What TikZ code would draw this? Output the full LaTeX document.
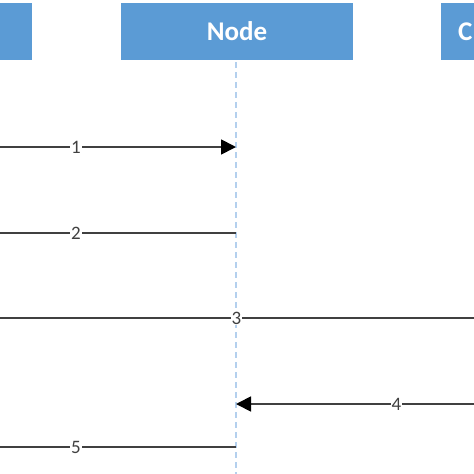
\documentclass[tikz,border=0pt]{standalone}
\usepackage{fontspec}
\setmainfont{Carlito}
\usetikzlibrary{arrows.meta}
\definecolor{boxblue}{HTML}{5B9BD5}
\definecolor{lifeblue}{HTML}{B4D0EE}
\definecolor{msg}{HTML}{404040}
\begin{document}
\begin{tikzpicture}[x=1pt,y=-1pt,
  actor/.style={fill=boxblue, draw=none, minimum width=232pt, minimum height=57pt, inner sep=0pt, text=white, font=\fontsize{27}{30}\selectfont\bfseries},
  life/.style={draw=lifeblue, line width=1.6pt, dash pattern=on 6pt off 4pt},
  msgline/.style={draw=msg, line width=1.8pt},
  tip/.style={-{Triangle[length=15pt,width=15pt,fill=black,color=black]}},
  lbl/.style={fill=white, inner sep=1pt, font=\fontsize{19}{20}\selectfont, text=black!75}]
\useasboundingbox (0,0) rectangle (474,474);
\clip (0,0) rectangle (474,474);
% participants
\node[actor] (A) at (-84,31.5) {};
\node[actor] (N) at (237,31.5) {Node};
\node[actor] (C) at (557,31.5) {};
\node[anchor=west, inner sep=0pt, text=white, font=\fontsize{27}{30}\selectfont\bfseries] (Ct) at (458,31.5) {C};
% lifeline
\coordinate (Ntop) at (236,62);
\coordinate (Nbot) at (236,474);
\draw[life] (Ntop) -- (Nbot);
% message end points
\coordinate (a1) at (-84,147); \coordinate (n1) at (236,147);
\coordinate (a2) at (-84,233); \coordinate (n2) at (236,233);
\coordinate (a3) at (-84,318); \coordinate (c3) at (557,318);
\coordinate (c4) at (557,404); \coordinate (n4) at (236,404);
\coordinate (a5) at (-84,447); \coordinate (n5) at (236,447);
% messages
\draw[msgline,tip] (a1) -- node[lbl] (l1) {1} (n1);
\draw[msgline] (a2) -- node[lbl] (l2) {2} (n2);
\draw[msgline] (a3) -- node[lbl] (l3) {3} (c3);
\draw[msgline,tip] (c4) -- node[lbl] (l4) {4} (n4);
\draw[msgline] (a5) -- node[lbl] (l5) {5} (n5);
\end{tikzpicture}
\end{document}
